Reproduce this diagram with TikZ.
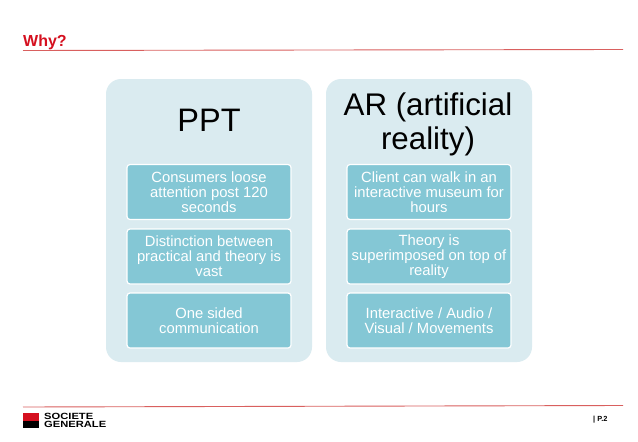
\documentclass[tikz,border=0pt]{standalone}
\usepackage{xcolor}
\usepackage{fontspec}
\setmainfont{Liberation Sans}
\usetikzlibrary{positioning}
\definecolor{panelblue}{HTML}{DAEBF0}
\definecolor{itemblue}{HTML}{84C7D5}
\definecolor{sgred}{HTML}{D5101F}
\definecolor{rulered}{HTML}{D9605F}
\tikzset{
    panel/.style={fill=panelblue, rounded corners=15pt, minimum width=206pt, minimum height=283pt, inner sep=0pt},
    item/.style={fill=itemblue, draw=white, line width=1.2pt, rounded corners=3pt, minimum width=164pt, minimum height=55pt, inner sep=0pt, align=center, text=white, font=\fontsize{14.8}{15.2}\selectfont},
    heading/.style={align=center, inner sep=0pt},
    rule/.style={rulered, line width=0.9pt}
}
\begin{document}
\begin{tikzpicture}[x=1pt,y=-1pt]
    \useasboundingbox (0,0) rectangle (638,442);
    \fill[white] (0,0) rectangle (638,442);
    % title and rules
    \node[anchor=base west, inner sep=0pt, text=sgred, font=\fontsize{16}{16}\selectfont\bfseries] at (23,46) (why) {Why?};
    \coordinate (topleft) at (23,50.5);
    \coordinate (topright) at (623,49.5);
    \draw[rule] (topleft) -- (topright);
    \coordinate (botleft) at (23,407);
    \coordinate (botright) at (623,405.5);
    \draw[rule] (botleft) -- (botright);
    % panels
    \node[panel] at (209,220.5) (ppt) {};
    \node[panel] at (429,220.5) (ar) {};
    \node[heading, font=\fontsize{32.5}{34}\selectfont] at (209,120) (ppttitle) {PPT};
    \node[heading, font=\fontsize{31.3}{33.5}\selectfont] at (428,124.5) (artitle) {AR (artificial\\reality)};
    % left column
    \node[item] at (209,192) (loose) {Consumers loose\\attention post 120\\seconds};
    \node[item] at (209,256.5) (vast) {Distinction between\\practical and theory is\\vast};
    \node[item] at (209,320.5) (onesided) {One sided\\communication};
    % right column
    \node[item] at (429,192) (museum) {Client can walk in an\\interactive museum for\\hours};
    \node[item] at (429,256.5) (theory) {Theory is\\superimposed on top of\\reality};
    \node[item] at (429,320.5) (movements) {Interactive / Audio /\\Visual / Movements};
    % logo and page number
    \fill[sgred] (23,413) rectangle (38.5,420.5);
    \fill[black] (23,420.5) rectangle (38.5,428);
    \node[anchor=west, inner sep=0pt, xscale=1.24, font=\fontsize{9}{8}\selectfont\bfseries, align=left] at (44,420.5) (logo) {SOCIETE\\GENERALE};
    \node[anchor=base west, inner sep=0pt, font=\fontsize{7.4}{7.4}\selectfont\bfseries] at (593,421) (page) {| P.2};
\end{tikzpicture}
\end{document}
